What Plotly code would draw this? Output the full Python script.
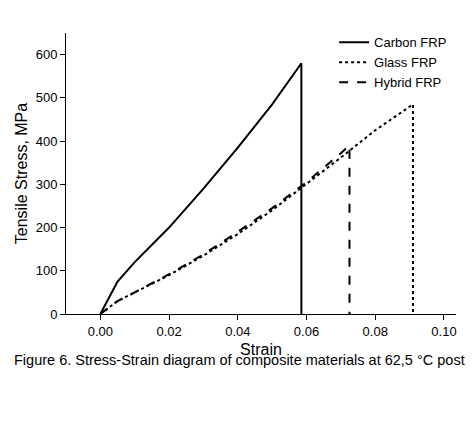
import plotly.graph_objects as go

carbon_x = [0, 0.002, 0.005, 0.01, 0.015, 0.02, 0.03, 0.04, 0.05, 0.0585, 0.0585]
carbon_y = [0, 30, 75, 120, 160, 200, 290, 385, 485, 580, 0]
glass_x = [0, 0.005, 0.01, 0.02, 0.03, 0.04, 0.05, 0.06, 0.07, 0.08, 0.091, 0.091]
glass_y = [0, 30, 50, 90, 135, 185, 240, 300, 362, 425, 485, 0]
hybrid_x = [0, 0.005, 0.01, 0.02, 0.03, 0.04, 0.05, 0.06, 0.07, 0.0725, 0.0725]
hybrid_y = [0, 30, 50, 92, 138, 190, 245, 305, 372, 390, 0]

fig = go.Figure()
fig.add_trace(go.Scatter(x=carbon_x, y=carbon_y, mode="lines", name="Carbon FRP",
                         line=dict(color="black", width=2)))
fig.add_trace(go.Scatter(x=glass_x, y=glass_y, mode="lines", name="Glass FRP",
                         line=dict(color="black", width=2, dash="dot")))
fig.add_trace(go.Scatter(x=hybrid_x, y=hybrid_y, mode="lines", name="Hybrid FRP",
                         line=dict(color="black", width=2, dash="dash")))
axis_common = dict(showgrid=False, zeroline=False, showline=True, linecolor="black",
                   ticks="outside", tickcolor="black", ticklen=5, linewidth=1)
fig.update_layout(
    width=474, height=436, plot_bgcolor="white", paper_bgcolor="white",
    font=dict(family="Liberation Sans, Arial", size=13, color="black"),
    margin=dict(l=51, r=26, t=25, b=130),
    xaxis=dict(title=dict(text="Strain", standoff=6), range=[-0.01, 0.1035],
               tickvals=[0, 0.02, 0.04, 0.06, 0.08, 0.1],
               ticktext=["0.00", "0.02", "0.04", "0.06", "0.08", "0.10"], **axis_common),
    yaxis=dict(title=dict(text="Tensile Stress, MPa", standoff=4), range=[0, 650],
               tickvals=[0, 100, 200, 300, 400, 500, 600], **axis_common),
    legend=dict(x=0.99, y=1.02, xanchor="right", yanchor="top", bgcolor="rgba(0,0,0,0)",
                font=dict(size=13)),
    showlegend=True,
)
fig.add_annotation(text="Figure 6. Stress-Strain diagram of composite materials at 62,5 °C post curing",
                   x=0.5, xref="paper", xanchor="center", yref="paper", y=-0.2,
                   showarrow=False, font=dict(size=14.5))
fig.write_html("out.html")
